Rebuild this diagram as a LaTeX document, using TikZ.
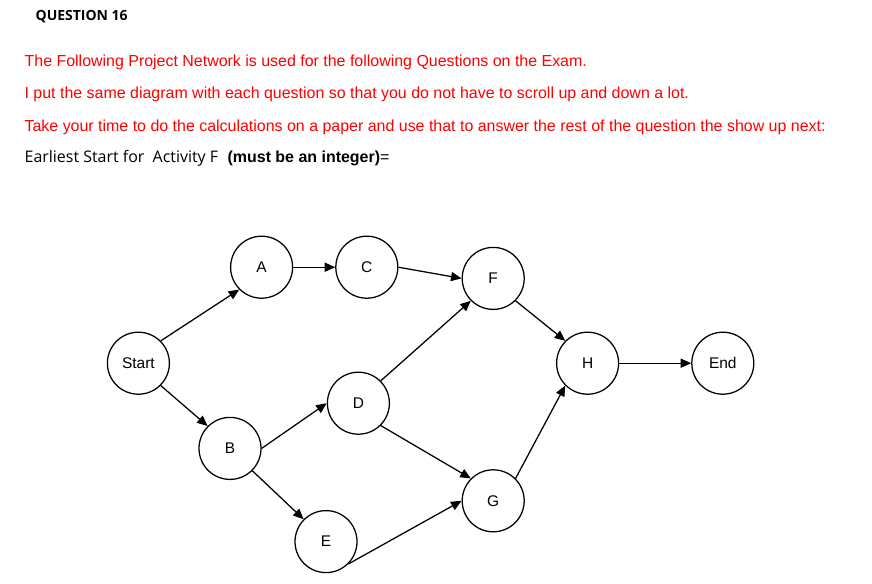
\documentclass[tikz,border=0pt]{standalone}
\usepackage{fontspec}
\setmainfont{Liberation Sans}
\newfontfamily\opensans{Open Sans}
\usepackage{tikz}
\usetikzlibrary{arrows.meta}
\tikzstyle{event} = [draw, circle, line width=0.9pt, minimum size=1.55cm, inner sep=0pt, font=\fontsize{11}{13}\selectfont]
\tikzstyle{redline} = [anchor=west, inner sep=0pt, text=red, font=\fontsize{11.35}{13}\selectfont]

\begin{document}
\begin{tikzpicture}[>={Triangle[length=7.5pt,width=6.5pt]}, line width=0.9pt]
\useasboundingbox (0,0) rectangle (21.8,-14.575);
% header texts
\node[anchor=west, inner sep=0pt, font=\opensans\bfseries\fontsize{9.95}{12}\selectfont] (title) at (0.875,-0.41) {QUESTION 16};
\node[redline] (line1) at (0.6,-1.57) {The Following Project Network is used for the following Questions on the Exam.};
\node[redline] (line2) at (0.6,-2.37) {I put the same diagram with each question so that you do not have to scroll up and down a lot.};
\node[redline] (line3) at (0.6,-3.19) {Take your time to do the calculations on a paper and use that to answer the rest of the question the show up next:};
\node[anchor=west, inner sep=0pt, font=\opensans\fontsize{11.35}{13}\selectfont] (line4) at (0.6,-3.96) {Earliest Start for~ Activity F};
\node[anchor=west, inner sep=0pt, font=\bfseries\fontsize{11.35}{13}\selectfont] (ask) at (5.675,-3.96) {(must be an integer)\mdseries=};
% events
\node[event] (start) at (3.46,-9.08) {Start};
\node[event] (a) at (6.54,-6.68) {A};
\node[event] (c) at (9.17,-6.68) {C};
\node[event] (f) at (12.33,-6.96) {F};
\node[event] (d) at (8.96,-10.08) {D};
\node[event] (b) at (5.75,-11.21) {B};
\node[event] (e) at (8.15,-13.54) {E};
\node[event] (g) at (12.33,-12.52) {G};
\node[event] (h) at (14.69,-9.08) {H};
\node[event] (finish) at (18.07,-9.08) {End};
% activities
\draw[->] (start.north east) -- (a.south west);
\draw[->] (start.south east) -- (b.north west);
\draw[->] (a.east) -- (c.west);
\draw[->] (c.east) -- (f.west);
\draw[->] (b.east) -- (d.west);
\draw[->] (b.south east) -- (e.north west);
\draw[->] (d.north east) -- (f.south west);
\draw[->] (d.south east) -- (g.north west);
\draw[->] (e.south east) -- (g.west);
\draw[->] (f.south east) -- (h.north west);
\draw[->] (g.north east) -- (h.south west);
\draw[->] (h.east) -- (finish.west);
\end{tikzpicture}
\end{document}
